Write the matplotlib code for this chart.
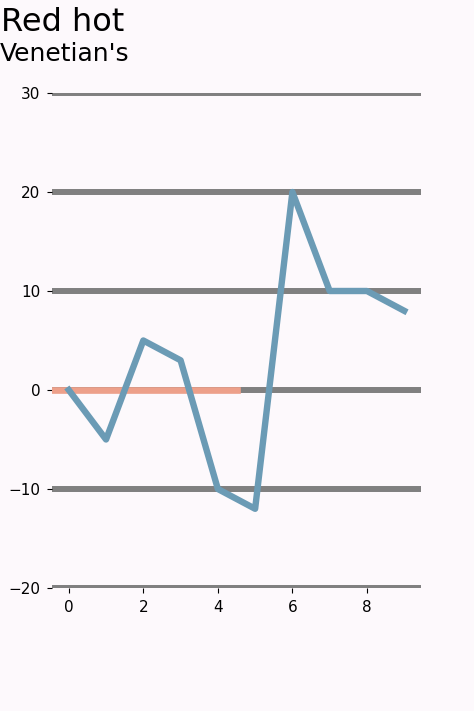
import matplotlib
matplotlib.use("Agg")
import matplotlib.pyplot as plt

x_vals = [0, 1, 2, 3, 4, 5, 6, 7, 8, 9]
y_vals = [0, -5, 5, 3, -10, -12, 20, 10, 10, 8]
yticks = [-20, -10, 0, 10, 20, 30]
xticks = [0, 2, 4, 6, 8]
title = "Red hot"
subtitle = "Venetian's"

bg = "#fdf9fc"
fig = plt.figure(figsize=(4.74, 7.11), dpi=100, facecolor=bg)
ax = fig.add_axes([52/474, 1-588/711, (421-52)/474, (588-93)/711])
ax.set_facecolor(bg)

ax.yaxis.grid(True, color="#808080", linewidth=4.3)
ax.set_axisbelow(True)
ax.axhline(0, xmin=0, xmax=0.5, color="#eda08a", linewidth=4.8, zorder=2)
ax.plot(x_vals, y_vals, color="#6b9bb5", linewidth=4.6, zorder=3)

ax.set_ylim(-20, 30)
ax.set_xlim(-0.45, 9.45)
ax.set_yticks(yticks)
ax.set_xticks(xticks)
for s in ax.spines.values():
    s.set_visible(False)
ax.tick_params(labelsize=11, pad=5)

fig.text(0.003, 1-31/711, title, fontsize=23, ha="left", va="baseline")
fig.text(0.0, 1-61/711, subtitle, fontsize=18, ha="left", va="baseline")

fig.savefig("out.png", dpi=100, facecolor=bg)
